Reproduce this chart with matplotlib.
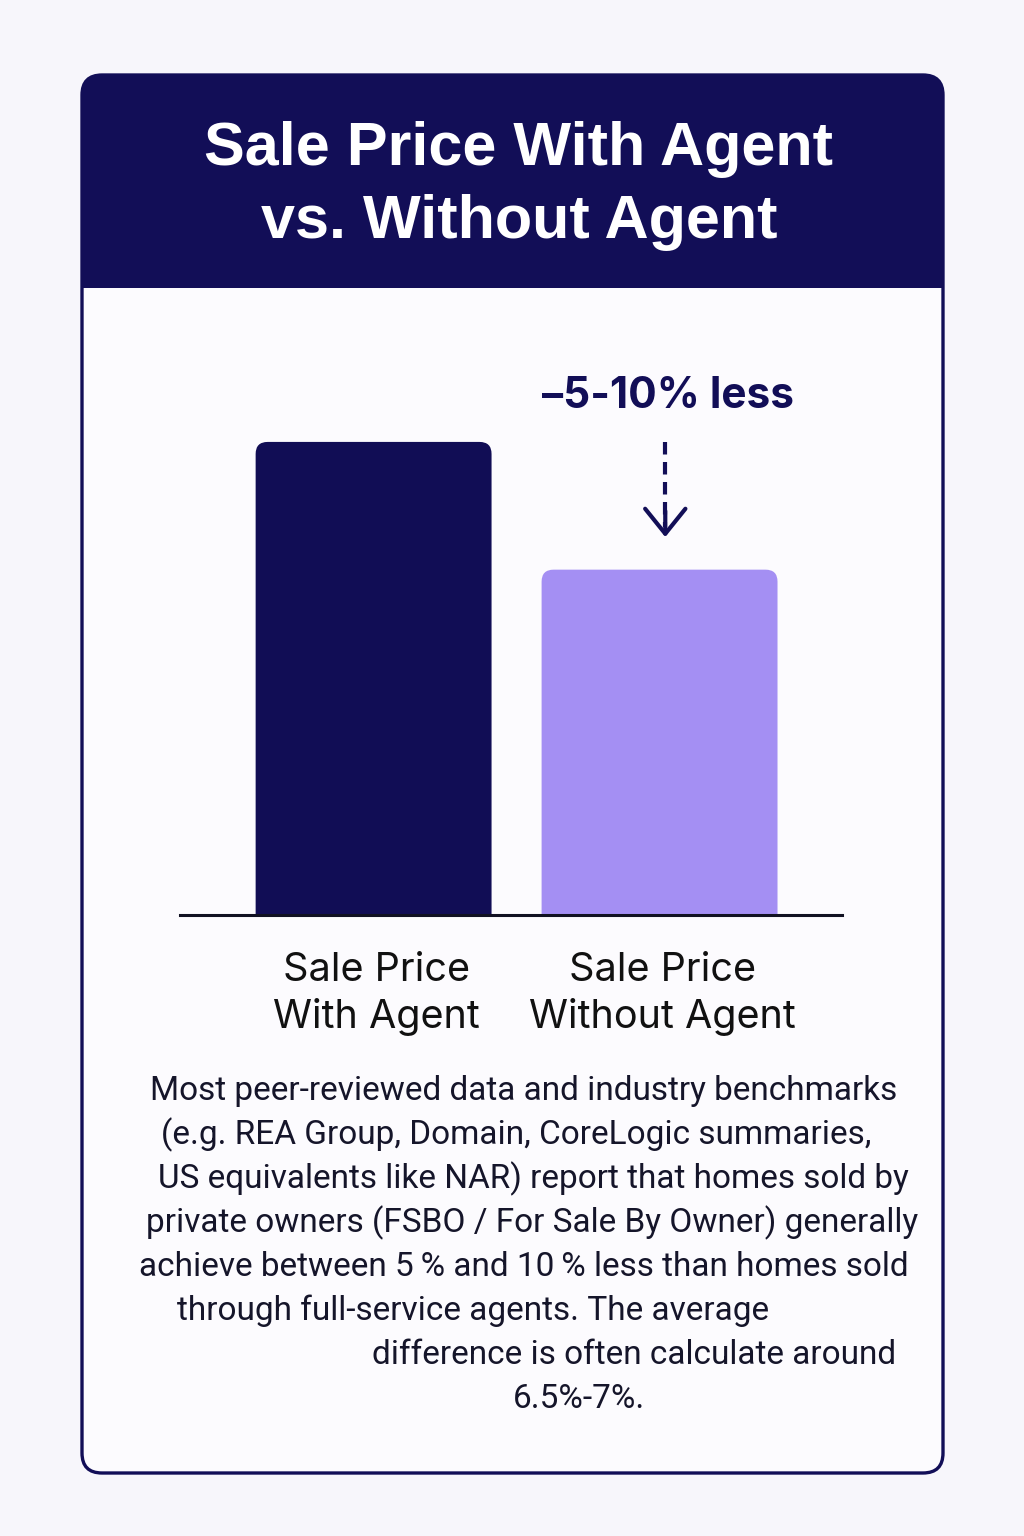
import matplotlib
matplotlib.use('Agg')
import matplotlib.pyplot as plt
from matplotlib.patches import FancyBboxPatch, Rectangle

# chart data
categories = ['Sale Price\nWith Agent', 'Sale Price\nWithout Agent']
values = [100, 73]          # relative sale price index
bar_colors = ['#110d55', '#a48ff3']
title = 'Sale Price With Agent\nvs. Without Agent'
note = '\u20135-10% less'
para_lines = [
    'Most peer-reviewed data and industry benchmarks',
    '(e.g. REA Group, Domain, CoreLogic summaries,',
    'US equivalents like NAR) report that homes sold by',
    'private owners (FSBO / For Sale By Owner) generally',
    'achieve between 5\u2009% and 10\u2009% less than homes sold',
    'through full-service agents. The average',
    'difference is often calculate around',
    '6.5%-7%.',
]
para_x = [524, 516, 533, 532, 524, 473, 634, 579]

NAVY = '#120e57'
W, H = 1024, 1536

fig = plt.figure(figsize=(W / 100, H / 100), dpi=100)
fig.patch.set_facecolor('#f7f6fb')

# background / card layer in pixel coordinates
bg = fig.add_axes([0, 0, 1, 1])
bg.set_xlim(0, W)
bg.set_ylim(H, 0)
bg.axis('off')

card = FancyBboxPatch((82, 75), 861, 1398, boxstyle='round,pad=0,rounding_size=20',
                      facecolor='#fcfbfe', edgecolor=NAVY, linewidth=2.4, zorder=1)
bg.add_patch(card)
hdr = FancyBboxPatch((82, 75), 861, 213, boxstyle='round,pad=0,rounding_size=20',
                     facecolor=NAVY, edgecolor='none', zorder=2)
bg.add_patch(hdr)
bg.add_patch(Rectangle((82, 200), 861, 88, facecolor=NAVY, edgecolor='none', zorder=2))

bg.text(519, 186, title, ha='center', va='center', color='white', fontsize=44,
        fontweight='bold', family='Liberation Sans', linespacing=1.36, zorder=3)

for i, line in enumerate(para_lines):
    bg.text(para_x[i], 1091 + 44 * i, line, ha='center', va='center', fontsize=24,
            color='#15152a', family='Roboto')

# bar chart axes: baseline at y=915 px, spans x 180-842 px
ax = fig.add_axes([180 / W, (H - 915) / H, 662 / W, 615 / H])
ax.set_zorder(2)
ax.patch.set_alpha(0)
ymax = 130
ax.set_ylim(0, ymax)
ax.set_xlim(-0.677, 1.638)
bars = ax.bar(range(len(values)), values, width=0.825, color=bar_colors)

# replace plain bars with rounded-top versions
aspect = (ymax / 615) / (2.315 / 662)
for b in bars:
    b.set_visible(False)
    r = 0.042
    rb = FancyBboxPatch((b.get_x(), -r * aspect * 2), b.get_width(),
                        b.get_height() + r * aspect * 2,
                        boxstyle='round,pad=0,rounding_size=%f' % r, mutation_aspect=aspect,
                        facecolor=b.get_facecolor(), edgecolor='none')
    ax.add_patch(rb)

ax.axhline(0, color='#111122', linewidth=2.2, clip_on=False, xmin=0, xmax=1)
for s in ax.spines.values():
    s.set_visible(False)
ax.set_xticks([])
ax.set_yticks([])

# category labels
for i, c in enumerate(categories):
    ax.text(i + 0.01, -7.8, c, ha='center', va='top', fontsize=28.5, color='#111111',
            family='Inter', linespacing=1.3, clip_on=False)

# dashed arrow from top of first bar down to second bar
ax.plot([1.02, 1.02], [values[0], values[1] + 9], color=NAVY, linewidth=3,
        linestyle=(0, (3, 1.8)), solid_capstyle='round')
ax.annotate('', xy=(1.02, values[1] + 6.3), xytext=(1.02, values[1] + 13),
            arrowprops=dict(arrowstyle='->,head_length=1.8,head_width=1.45',
                            color=NAVY, lw=3))
ax.text(1.03, values[0] + 9.5, note, ha='center', va='center', fontsize=30.5,
        fontweight='bold', color=NAVY, family='Inter', clip_on=False)

fig.savefig('out.png', dpi=100, facecolor=fig.get_facecolor())
